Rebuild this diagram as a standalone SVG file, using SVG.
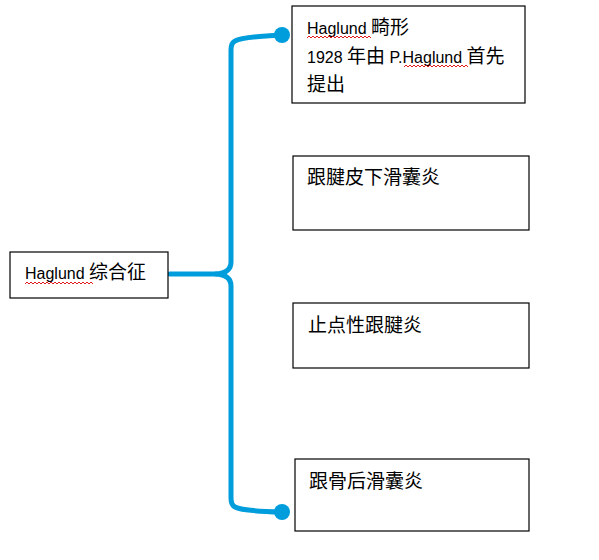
<svg xmlns="http://www.w3.org/2000/svg" width="599" height="560" viewBox="0 0 599 560">
<style>
.box{fill:#fff;stroke:#000;stroke-width:1.2}
.t{font-family:"Liberation Sans","Noto Sans CJK SC",sans-serif;font-size:16px;fill:#000}
.cj{font-family:"Noto Sans CJK SC","Liberation Sans",sans-serif;font-size:19px}
.conn{fill:none;stroke:#009ddc;stroke-width:5;stroke-linecap:round;stroke-linejoin:round}
.dot{fill:#009ddc}
.sq{fill:none;stroke:#e00000;stroke-width:0.9}
</style>
<rect width="599" height="560" fill="#fff"/>
<g id="connectors">
<path class="conn" d="M281 35 Q242 37 235 41 Q231 43 231 50 L231 262 Q231 273 216 274 L170 274"/>
<path class="conn" d="M281 512 Q242 511 235 507 Q231 505 231 498 L231 286 Q231 275 216 274"/>
<circle class="dot" cx="282" cy="35" r="8"/>
<circle class="dot" cx="282" cy="512" r="8"/>
</g>
<g id="root">
<rect class="box" x="10" y="252" width="158" height="46"/>
<text class="t" x="25" y="279">Haglund <tspan class="cj">综合征</tspan></text>
<path class="sq" d="M25 284 l2 -2 2 2 2 -2 2 2 2 -2 2 2 2 -2 2 2 2 -2 2 2 2 -2 2 2 2 -2 2 2 2 -2 2 2 2 -2 2 2 2 -2 2 2 2 -2 2 2 2 -2 2 2 2 -2 2 2 2 -2 2 2 2 -2 2 2 2 -2 2 2 2 -2 2 2"/>
</g>
<g id="n1">
<rect class="box" x="292" y="6" width="233" height="97"/>
<text class="t" x="307" y="34">Haglund <tspan class="cj">畸形</tspan></text>
<text class="t" x="307" y="63">1928 <tspan class="cj">年由</tspan> P.Haglund <tspan class="cj">首先</tspan></text>
<text class="t cj" x="307" y="91">提出</text>
<path class="sq" d="M307 38 l2 -2 2 2 2 -2 2 2 2 -2 2 2 2 -2 2 2 2 -2 2 2 2 -2 2 2 2 -2 2 2 2 -2 2 2 2 -2 2 2 2 -2 2 2 2 -2 2 2 2 -2 2 2 2 -2 2 2 2 -2 2 2 2 -2 2 2 2 -2 2 2"/>
<path class="sq" d="M404 67 l2 -2 2 2 2 -2 2 2 2 -2 2 2 2 -2 2 2 2 -2 2 2 2 -2 2 2 2 -2 2 2 2 -2 2 2 2 -2 2 2 2 -2 2 2 2 -2 2 2 2 -2 2 2 2 -2 2 2 2 -2 2 2 2 -2 2 2 2 -2 2 2"/>
</g>
<g id="n2">
<rect class="box" x="293" y="156" width="236" height="74"/>
<text class="t cj" x="307" y="184">跟腱皮下滑囊炎</text>
</g>
<g id="n3">
<rect class="box" x="293" y="303" width="236" height="65"/>
<text class="t cj" x="308" y="332">止点性跟腱炎</text>
</g>
<g id="n4">
<rect class="box" x="295" y="459" width="234" height="72"/>
<text class="t cj" x="309" y="488">跟骨后滑囊炎</text>
</g>
</svg>
